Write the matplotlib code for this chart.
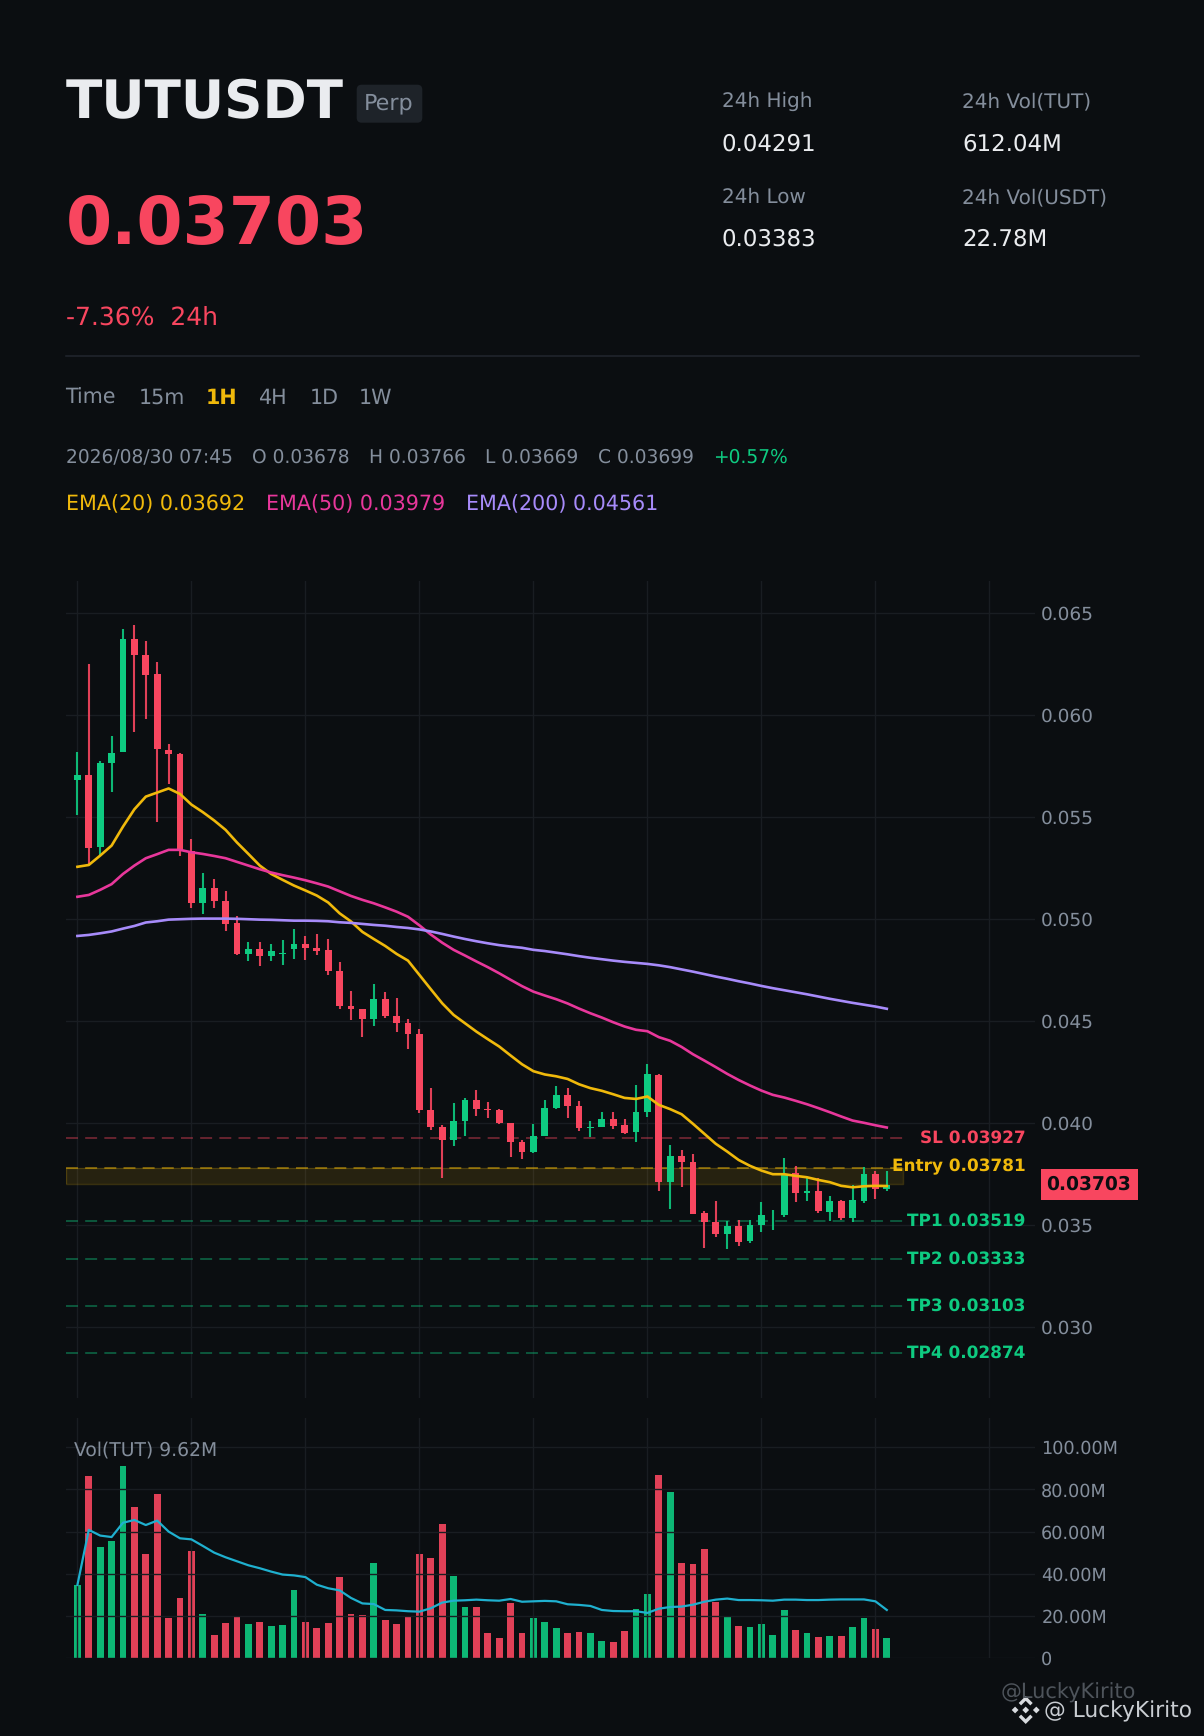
import matplotlib
matplotlib.use("Agg")
import matplotlib.pyplot as plt
from matplotlib.patches import FancyBboxPatch, Polygon, Rectangle

plt.rcParams['font.family'] = 'DejaVu Sans'
plt.rcParams['lines.scale_dashes'] = False
plt.rcParams['text.hinting'] = 'none'

# candles
opens = [.05683, .05708, .05355, .05766, .05820, .06374, .06296, .06203, .05830, .05810,
         .05335, .05080, .05154, .05090, .04982, .04830, .04855, .04820, .04829, .04855,
         .04879, .04860, .04850, .04747, .04575, .04560, .04511, .04609, .04526, .04492,
         .04438, .04065, .03982, .03918, .04011, .04114, .04070, .04065, .04002, .03909,
         .03859, .03938, .04075, .04139, .04085, .03977, .03982, .04021, .03992, .03958,
         .04056, .04237, .03712, .03840, .03810, .03560, .03516, .03458, .03497, .03423,
         .03502, .03525, .03551, .03757, .03658, .03668, .03565, .03619, .03536, .03619,
         .03752, .03678]
highs = [.05820, .06252, .05776, .05899, .06423, .06443, .06364, .06261, .05859, .05815,
         .05394, .05227, .05198, .05139, .05016, .04889, .04889, .04879, .04899, .04953,
         .04918, .04928, .04904, .04791, .04649, .04560, .04683, .04644, .04614, .04511,
         .04462, .04173, .03992, .04100, .04124, .04163, .04105, .04070, .04002, .03918,
         .03997, .04114, .04183, .04173, .04110, .04011, .04056, .04056, .04021, .04188,
         .04291, .04242, .03894, .03869, .03850, .03570, .03619, .03521, .03526, .03526,
         .03614, .03575, .03830, .03791, .03732, .03732, .03644, .03624, .03698, .03786,
         .03766, .03766]
lows = [.05511, .05266, .05315, .05624, .05820, .05918, .05982, .05477, .05663, .05310,
        .05056, .05026, .05056, .04943, .04825, .04796, .04771, .04796, .04776, .04806,
        .04801, .04825, .04727, .04560, .04507, .04423, .04477, .04516, .04448, .04364,
        .04051, .03967, .03732, .03889, .03938, .04036, .04026, .03997, .03835, .03825,
        .03855, .03938, .04070, .04026, .03962, .03931, .03982, .03972, .03948, .03909,
        .04031, .03668, .03580, .03688, .03556, .03389, .03443, .03384, .03399, .03413,
        .03467, .03477, .03541, .03614, .03619, .03560, .03521, .03526, .03516, .03610,
        .03629, .03669]
closes = [.05708, .05350, .05766, .05815, .06374, .06296, .06198, .05835, .05810, .05335,
          .05080, .05154, .05090, .04977, .04830, .04855, .04820, .04845, .04832, .04879,
          .04860, .04845, .04747, .04575, .04560, .04511, .04609, .04526, .04492, .04438,
          .04065, .03982, .03918, .04011, .04114, .04070, .04065, .04002, .03909, .03859,
          .03938, .04075, .04139, .04085, .03977, .03982, .04021, .03987, .03953, .04056,
          .04242, .03712, .03840, .03810, .03556, .03516, .03458, .03497, .03418, .03502,
          .03551, .03528, .03752, .03658, .03668, .03570, .03619, .03536, .03624, .03752,
          .03678, .03699]

ema20 = [.05257, .05266, .05312, .05361, .05454, .05539, .05601, .05621, .05641, .05614,
         .05562, .05525, .05484, .05438, .05376, .05320, .05263, .05222, .05193, .05165,
         .05141, .05116, .05082, .05029, .04989, .04938, .04903, .04869, .04830, .04797,
         .04727, .04657, .04588, .04531, .04490, .04449, .04412, .04376, .04332, .04289,
         .04255, .04239, .04230, .04217, .04191, .04172, .04159, .04142, .04124, .04119,
         .04131, .04090, .04069, .04044, .03997, .03948, .03899, .03861, .03820, .03791,
         .03768, .03750, .03750, .03742, .03735, .03722, .03711, .03693, .03686, .03691,
         .03693, .03692]
ema50 = [.05110, .05119, .05144, .05172, .05222, .05263, .05299, .05319, .05340, .05340,
         .05328, .05320, .05310, .05299, .05281, .05263, .05245, .05229, .05216, .05204,
         .05191, .05176, .05160, .05137, .05114, .05095, .05078, .05058, .05037, .05012,
         .04970, .04925, .04885, .04850, .04822, .04793, .04765, .04735, .04703, .04672,
         .04645, .04626, .04608, .04587, .04562, .04539, .04518, .04495, .04474, .04458,
         .04451, .04422, .04404, .04374, .04338, .04307, .04275, .04242, .04212, .04185,
         .04160, .04139, .04126, .04110, .04093, .04074, .04054, .04033, .04013, .04002,
         .03990, .03979]
ema200 = [.04918, .04923, .04931, .04940, .04954, .04967, .04984, .04990, .04998, .05000,
          .05002, .05003, .05003, .05003, .05002, .05000, .04998, .04997, .04995, .04993,
          .04993, .04992, .04990, .04985, .04982, .04977, .04972, .04968, .04962, .04957,
          .04950, .04940, .04928, .04915, .04903, .04892, .04882, .04873, .04866, .04860,
          .04850, .04844, .04836, .04828, .04819, .04811, .04804, .04797, .04791, .04786,
          .04781, .04774, .04765, .04754, .04743, .04731, .04719, .04708, .04696, .04685,
          .04673, .04662, .04652, .04642, .04632, .04621, .04610, .04600, .04590, .04581,
          .04572, .04561]

# volume in millions
volume = [34.65, 86.4, 52.7, 55.5, 91.1, 71.7, 49.4, 77.8, 19.0, 28.5,
          50.8, 20.9, 10.9, 16.6, 19.9, 16.1, 17.1, 15.2, 15.7, 32.3,
          17.1, 14.2, 16.6, 38.4, 20.9, 20.4, 45.1, 18.0, 16.1, 19.5,
          49.4, 47.5, 63.6, 38.9, 24.2, 24.2, 11.9, 9.5, 26.1, 11.9,
          19.0, 17.1, 14.2, 11.9, 12.3, 11.9, 8.1, 7.6, 12.8, 23.3,
          30.4, 86.9, 78.8, 45.1, 44.6, 51.7, 26.6, 19.5, 15.2, 14.7,
          16.1, 10.9, 22.8, 13.3, 11.9, 10.0, 10.4, 10.4, 14.7, 19.0,
          13.8, 9.62]
vol_ma = [34.65, 60.8, 58.1, 57.4, 64.2, 65.5, 63.1, 65.2, 60.0, 56.8,
          56.3, 53.2, 50.0, 47.8, 45.9, 44.0, 42.6, 41.0, 39.6, 39.2,
          38.4, 34.8, 33.1, 32.1, 28.5, 25.9, 25.6, 22.8, 22.6, 22.2,
          22.0, 23.6, 26.3, 27.2, 27.4, 27.7, 27.4, 27.2, 28.0, 26.7,
          26.9, 27.1, 26.9, 25.5, 25.2, 24.7, 22.8, 22.3, 22.2, 22.2,
          21.4, 23.4, 24.2, 24.4, 25.3, 26.7, 27.7, 28.2, 27.5, 27.5,
          27.4, 27.2, 27.7, 27.7, 27.5, 27.5, 27.7, 27.8, 27.8, 27.8,
          26.9, 22.8]
vol_green = [True, False, True, True, True, False, False, False, False, False,
             False, True, False, False, False, True, False, True, True, True,
             False, False, False, False, False, False, True, False, False, False,
             False, False, False, True, True, False, False, False, False, False,
             True, True, True, False, False, True, True, False, False, True,
             True, False, True, False, False, False, False, True, False, True,
             True, True, True, False, True, False, True, False, True, True,
             False, True]

price_ticks = [0.065, 0.060, 0.055, 0.050, 0.045, 0.040, 0.035, 0.030]
vol_ticks = [0, 20, 40, 60, 80, 100]
vol_labels = ['0', '20.00M', '40.00M', '60.00M', '80.00M', '100.00M']

sl_price = 0.03927
entry_price = 0.03781
zone_low = 0.03700
tp_prices = [0.03519, 0.03333, 0.03103, 0.02874]
tp_names = ['TP1 0.03519', 'TP2 0.03333', 'TP3 0.03103', 'TP4 0.02874']

BG = '#0b0e11'
RED = '#f8465f'
GREEN = '#0ecb81'
YELLOW = '#f0b90b'
PINK = '#e8379b'
PURPLE = '#a78bfa'
CYAN = '#1fb0cf'
GRAY = '#848e9c'
WHITE = '#eaecef'
GRID = '#191d22'

W, H = 1204, 1736
fig = plt.figure(figsize=(12.04, 17.36), dpi=100, facecolor=BG)

# overlay in pixels for the header texts
page = fig.add_axes([0, 0, 1, 1], zorder=0)
page.set_xlim(0, W)
page.set_ylim(H, 0)
page.axis('off')


def t(x, y, s, size, color=GRAY, weight='normal', ha='left', va='baseline', **kw):
    page.text(x, y, s, fontsize=size, color=color, fontweight=weight, ha=ha, va=va, **kw)


t(65.5, 118.3, 'TUTUSDT', 38.3, WHITE, 'bold')
page.add_patch(FancyBboxPatch((360.7, 88.7), 57.6, 30, boxstyle='round,pad=4,rounding_size=5',
                              fc='#1e2329', ec='none'))
t(364, 109.5, 'Perp', 16)
t(65.5, 244.5, '0.03703', 47.8, RED, 'bold')
t(66, 325, '-7.36%  24h', 18, RED)

t(722, 107.3, '24h High', 14.4)
t(721, 151, '0.04291', 16.5, WHITE)
t(722, 203, '24h Low', 14.4)
t(721, 246, '0.03383', 16.5, WHITE)
t(962.5, 107.3, '24h Vol(TUT)', 14.4)
t(962, 151, '612.04M', 16.5, WHITE)
t(962.5, 203, '24h Vol(USDT)', 14.4)
t(962, 246, '22.78M', 16.5, WHITE)

page.plot([66, 1139], [356, 356], color='#22262e', lw=1.1)

t(65.5, 403.7, 'Time', 14.9)
t(138.5, 403.7, '15m', 14.9)
t(205.5, 403.7, '1H', 14.9, YELLOW, 'bold')
t(259, 403.7, '4H', 14.9)
t(309.5, 403.7, '1D', 14.9)
t(359, 403.7, '1W', 14.9)

t(66, 462.5, '2026/08/30 07:45', 13.4)
t(252, 462.5, 'O 0.03678', 13.4)
t(369, 462.5, 'H 0.03766', 13.4)
t(485, 462.5, 'L 0.03669', 13.4)
t(598, 462.5, 'C 0.03699', 13.4)
t(713.5, 462.5, '+0.57%', 13.4, GREEN)

t(66, 510, 'EMA(20) 0.03692', 14.9, YELLOW)
t(266, 510, 'EMA(50) 0.03979', 14.9, PINK)
t(466, 510, 'EMA(200) 0.04561', 14.9, PURPLE)

# last price tag
page.add_patch(Rectangle((1041, 1169), 97, 31, fc=RED, ec='none'))
t(1089, 1184.5, '0.03703', 13.4, BG, 'bold', ha='center', va='center')

# watermarks
t(1001, 1699, '@LuckyKirito', 15, '#4e545b')
t(1044.5, 1717, '@ LuckyKirito', 15.7, '#c9cdd2')
cx, cy = 1025.7, 1710
for shape in ([(0, -14), (7, -7), (4.6, -4.6), (0, -9.2), (-4.6, -4.6), (-7, -7)],
              [(0, 14), (7, 7), (4.6, 4.6), (0, 9.2), (-4.6, 4.6), (-7, 7)],
              [(-14, 0), (-10.6, -3.4), (-7.2, 0), (-10.6, 3.4)],
              [(14, 0), (10.6, -3.4), (7.2, 0), (10.6, 3.4)],
              [(0, -3.4), (3.4, 0), (0, 3.4), (-3.4, 0)]):
    page.add_patch(Polygon([(cx + a, cy + b) for a, b in shape], fc='#d8dbdf', ec='none'))


def pane(left, top, right, bottom, label_size):
    ax = fig.add_axes([left / W, 1 - bottom / H, (right - left) / W, (bottom - top) / H], zorder=1)
    ax.patch.set_alpha(0)
    for s in ax.spines.values():
        s.set_visible(False)
    ax.set_xlim(-1.0, 84.0)
    ax.set_xticks(range(0, 81, 10))
    ax.yaxis.tick_right()
    ax.tick_params(axis='x', length=0, labelbottom=False)
    ax.tick_params(axis='y', length=0, pad=4.5, labelsize=label_size, labelcolor=GRAY)
    ax.grid(True, color=GRID, lw=1.0)
    return ax


x = list(range(len(closes)))

# price pane
ax = pane(66, 581, 1035, 1398, 13.3)
ax.set_ylim(0.02653, 0.06658)
ax.set_yticks(price_ticks)
ax.set_yticklabels(['%.3f' % p for p in price_ticks])
ax.set_axisbelow(True)

x0, x1 = -1.0, 72.4
ax.add_patch(Rectangle((x0, zone_low), x1 - x0, entry_price - zone_low, fc=YELLOW, alpha=0.12,
                       ec='none', zorder=1))
ax.add_patch(Rectangle((x0, zone_low), x1 - x0, entry_price - zone_low, fc='none', ec=YELLOW,
                       alpha=0.2, lw=1.0, zorder=1))
dash = (0, (8.6, 5.2))
ax.hlines(sl_price, x0, x1, color=RED, alpha=0.45, lw=1.2, linestyles=[dash], zorder=1.5)
ax.hlines(entry_price, x0, x1, color=YELLOW, alpha=0.55, lw=1.2, linestyles=[dash], zorder=1.5)
ax.hlines(tp_prices, x0, x1, color=GREEN, alpha=0.45, lw=1.2, linestyles=[dash], zorder=1.5)

colors = [GREEN if c >= o else RED for o, c in zip(opens, closes)]
ax.vlines(x, lows, highs, colors=colors, lw=1.5, alpha=0.9, zorder=3)
ax.bar(x, [abs(c - o) for o, c in zip(opens, closes)], bottom=[min(o, c) for o, c in zip(opens, closes)],
       width=0.6, color=colors, zorder=3.1)

ax.plot(x, ema20, color=YELLOW, lw=1.9, zorder=4)
ax.plot(x, ema50, color=PINK, lw=1.9, zorder=4)
ax.plot(x, ema200, color=PURPLE, lw=1.9, zorder=4)

lx = 83.2
ax.text(lx, sl_price + 0.00002, 'SL 0.03927', color=RED, fontsize=12.2, fontweight='bold', ha='right', va='center', zorder=5)
ax.text(lx, entry_price + 0.00007, 'Entry 0.03781', color=YELLOW, fontsize=12.2, fontweight='bold', ha='right', va='center', zorder=5)
for p, name in zip(tp_prices, tp_names):
    ax.text(lx, p + 0.00001, name, color=GREEN, fontsize=12.2, fontweight='bold', ha='right', va='center', zorder=5)

# volume pane
vx = pane(66, 1418, 1035, 1658, 12.7)
vx.set_ylim(0, 113.9)
vx.set_yticks(vol_ticks)
vx.set_yticklabels(vol_labels)
vx.set_axisbelow(False)
vx.bar(x, volume, width=0.6, color=[GREEN if g else RED for g in vol_green], alpha=0.9, zorder=1)
vx.plot(x, vol_ma, color=CYAN, lw=1.6, zorder=4)
vx.text(0.0085, 0.842, 'Vol(TUT) 9.62M', color=GRAY, fontsize=13.5, transform=vx.transAxes, va='baseline', ha='left')

fig.savefig('out.png', dpi=100, facecolor=BG)
